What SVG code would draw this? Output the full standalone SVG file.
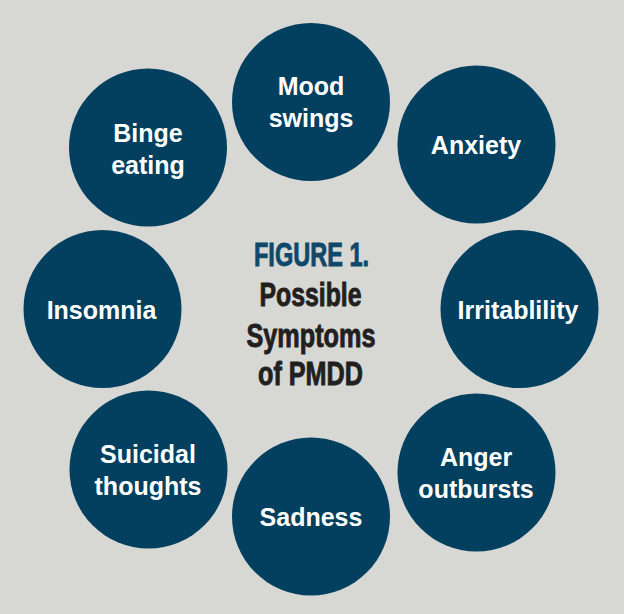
<svg xmlns="http://www.w3.org/2000/svg" width="624" height="614" viewBox="0 0 624 614">
<style>
.bg{fill:#d7d8d4}
.node circle{fill:#033f5e}
.node text{fill:#ffffff;font-family:"Liberation Sans",Arial,sans-serif;font-weight:bold;font-size:25px;text-anchor:middle}
.title text{font-family:"Liberation Sans",Arial,sans-serif;font-weight:bold;font-size:33px;text-anchor:middle;fill:#231f20;stroke:#231f20;stroke-width:0.9px}
.title .fig{fill:#0f4868;stroke:#0f4868}
</style>
<rect class="bg" x="0" y="0" width="624" height="614"/>
<g id="mood-swings" class="node">
<circle cx="311" cy="102" r="79"/>
<text x="311" y="95">Mood</text>
<text x="311" y="127">swings</text>
</g>
<g id="anxiety" class="node">
<circle cx="476.5" cy="144.5" r="79"/>
<text x="476" y="154">Anxiety</text>
</g>
<g id="irritability" class="node">
<circle cx="519.5" cy="309" r="79"/>
<text x="518" y="318.5">Irritablility</text>
</g>
<g id="anger-outbursts" class="node">
<circle cx="476.5" cy="472.5" r="79"/>
<text x="476" y="466">Anger</text>
<text x="476" y="498">outbursts</text>
</g>
<g id="sadness" class="node">
<circle cx="311" cy="516.5" r="79"/>
<text x="311" y="526">Sadness</text>
</g>
<g id="suicidal-thoughts" class="node">
<circle cx="148.5" cy="469.5" r="79"/>
<text x="148" y="463">Suicidal</text>
<text x="148" y="494.5">thoughts</text>
</g>
<g id="insomnia" class="node">
<circle cx="102.5" cy="309" r="79"/>
<text x="101.5" y="318.5">Insomnia</text>
</g>
<g id="binge-eating" class="node">
<circle cx="148" cy="147.5" r="79"/>
<text x="148" y="141.5">Binge</text>
<text x="148" y="173.5">eating</text>
</g>
<g id="title" class="title">
<text class="fig" x="311.5" y="266" textLength="115" lengthAdjust="spacingAndGlyphs">FIGURE 1.</text>
<text x="310.5" y="306" textLength="102" lengthAdjust="spacingAndGlyphs">Possible</text>
<text x="311" y="346.5" textLength="129" lengthAdjust="spacingAndGlyphs">Symptoms</text>
<text x="310.5" y="385" textLength="105" lengthAdjust="spacingAndGlyphs">of PMDD</text>
</g>
</svg>
